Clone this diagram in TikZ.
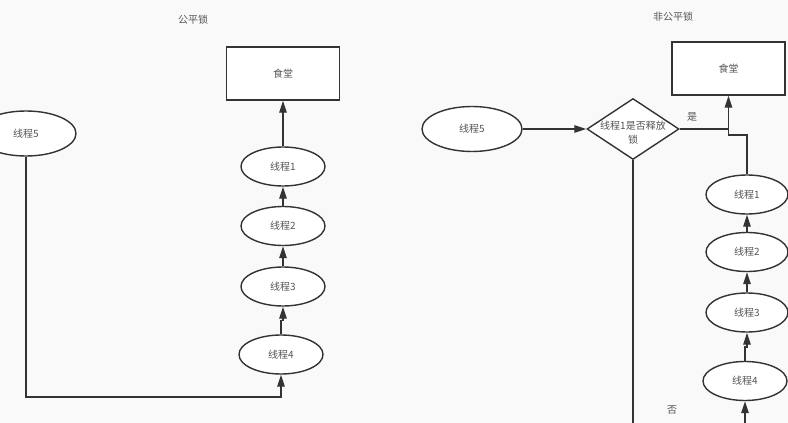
\documentclass[tikz,border=0pt]{standalone}
\usepackage{fontspec}
\newfontfamily\cjk{Noto Sans CJK SC}
\usetikzlibrary{shapes.geometric,arrows.meta}
\definecolor{bg}{HTML}{F9F9F9}
\definecolor{ln}{HTML}{333333}
\definecolor{tx}{HTML}{555555}
\tikzset{
  base/.style={draw=ln, line width=1.4pt, fill=white, inner sep=0pt, text=tx, font=\cjk\fontsize{10}{12}\selectfont},
  box/.style={base, rectangle, minimum width=113pt, minimum height=53pt},
  oval/.style={base, ellipse, minimum width=84pt, minimum height=39pt},
  bigoval/.style={base, ellipse, minimum width=100pt, minimum height=45pt},
  dia/.style={base, diamond, minimum width=92pt, minimum height=61pt},
  arr/.style={draw=ln, line width=1.4pt, -{Triangle[length=12pt,width=7.5pt]}},
  plain/.style={draw=ln, line width=1.4pt},
  title/.style={text=tx, font=\cjk\fontsize{10}{12}\selectfont, inner sep=0pt},
}
\begin{document}
\begin{tikzpicture}[x=1pt,y=-1pt]
\useasboundingbox (0,0) rectangle (788,423);
\fill[bg] (0,0) rectangle (788,423);
\clip (0,0) rectangle (788,423);
% left: fair lock
\node[title] (t1) at (193,20) {公平锁};
\node[box] (Lr) at (283,73.5) {食堂};
\node[bigoval] (L5) at (26,133.5) {线程5};
\node[oval] (L1) at (283,166.5) {线程1};
\node[oval] (L2) at (283,226) {线程2};
\node[oval] (L3) at (283,286.5) {线程3};
\node[oval] (L4) at (281,354.5) {线程4};
\coordinate (lc) at (26,397);
\draw[arr] (L1.north) -- (Lr.south);
\draw[arr] (L2.north) -- (L1.south);
\draw[arr] (L3.north) -- (L2.south);
\draw[arr] (L4.north) -- ++(0,-14) -| (L3.south);
\draw[arr] (L5.south) -- (lc) -| (L4.south);
% right: unfair lock
\node[title] (t2) at (673,17) {非公平锁};
\node[box] (Rr) at (728.5,68.5) {食堂};
\node[bigoval] (R5) at (472,129) {线程5};
\node[dia, label={[title, align=center, yshift=-3.5pt, font=\cjk\fontsize{10}{14}\selectfont]center:线程1是否释放\\锁}] (D) at (633,129) {};
\node[oval, minimum width=82pt] (R1) at (747,194.5) {线程1};
\node[oval, minimum width=82pt] (R2) at (747,252) {线程2};
\node[oval, minimum width=82pt] (R3) at (747,312.5) {线程3};
\node[oval, minimum width=84pt] (R4) at (745,381) {线程4};
\node[title] (yes) at (692,117) {是};
\node[title] (no) at (672,410) {否};
\coordinate (jc) at (728.5,135);
\coordinate (dn) at (633,425);
\coordinate (bn) at (745,425);
\draw[arr] (R5.east) -- (D.west);
\draw[arr] (D.east) -| (Rr.south);
\draw[plain] (R1.north) |- (jc) -- (728.5,125);
\draw[arr] (R2.north) -- (R1.south);
\draw[arr] (R3.north) -- (R2.south);
\draw[arr] (R4.north) -- ++(0,-14) -| (R3.south);
\draw[plain] (D.south) -- (dn);
\draw[arr] (bn) -- (R4.south);
\end{tikzpicture}
\end{document}
